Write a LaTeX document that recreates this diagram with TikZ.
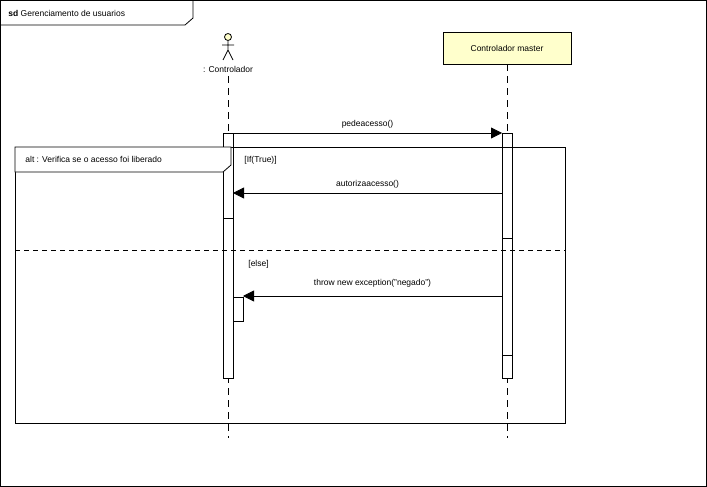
\documentclass[tikz,border=0pt]{standalone}
\usepackage{fontspec}
\setmainfont{Liberation Sans}
\usetikzlibrary{arrows.meta}
\begin{document}
\begin{tikzpicture}[x=1pt,y=-1pt,line width=0.8pt,
  txt/.style={font=\fontsize{8.5}{10}\selectfont,inner sep=0pt},
  act/.style={draw,fill=white},
  msg/.style={-{Triangle[length=11pt,width=11pt]}},
  life/.style={dash pattern=on 7pt off 5pt}]
\useasboundingbox (0,0) rectangle (707,487);
\draw (0.5,0.5) rectangle (706,486);
\draw (0.5,25) -- (185,25) -- (193,18) -- (193,0.5);
\node[txt,anchor=west] (title) at (8,13) {\textbf{sd} Gerenciamento de usuarios};
% actor
\draw[fill={rgb,255:red,255;green,255;blue,204}] (228,37) circle (3.5);
\draw (228,41) -- (228,50) (222,45) -- (234,45) (228,50) -- (223,60) (228,50) -- (233,60);
\node[txt] (ctl) at (228,69) {: Controlador};
\coordinate (l1a) at (228,76); \coordinate (l1b) at (228,438);
\draw[life] (l1a) -- (l1b);
\node[draw,fill={rgb,255:red,255;green,255;blue,204},minimum width=128pt,minimum height=32pt,txt] (cm) at (507,48) {Controlador master};
\coordinate (l2b) at (507,438);
\draw[life] (cm.south) -- (l2b);
% activations
\draw[act] (223,133) rectangle (233,378);
\draw (223,218) -- (233,218);
\draw[act] (502,133) rectangle (512,378);
\draw (502,238) -- (512,238) (502,355) -- (512,355);
\draw[act] (233,297) rectangle (243,321);
% alt frame
\draw (15,147) rectangle (565,423);
\draw[fill=white] (15,147) -- (231,147) -- (231,165) -- (223,172) -- (15,172) -- cycle;
\node[txt,anchor=west] (alt) at (25,159) {alt : Verifica se o acesso foi liberado};
\draw[dash pattern=on 5pt off 4pt] (15,250) -- (565,250);
\node[txt,anchor=west] (g1) at (244,160) {[If(True)]};
\node[txt,anchor=west] (g2) at (248,264) {[else]};
% messages
\coordinate (m1a) at (233,133); \coordinate (m1b) at (502,133);
\draw[msg] (m1a) -- node[txt,above=4pt] {pedeacesso()} (m1b);
\coordinate (m2a) at (502,193); \coordinate (m2b) at (233,193);
\draw[msg] (m2a) -- node[txt,above=4pt] {autorizaacesso()} (m2b);
\coordinate (m3a) at (502,296); \coordinate (m3b) at (243,296);
\draw[msg] (m3a) -- node[txt,above=8pt] {throw new exception("negado")} (m3b);
\end{tikzpicture}
\end{document}
